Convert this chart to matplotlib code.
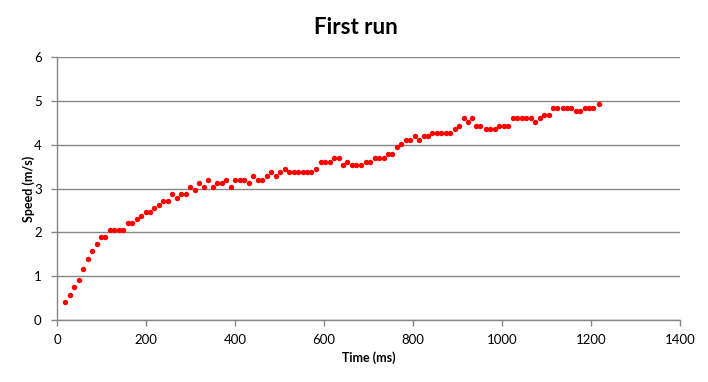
import matplotlib
matplotlib.use("Agg")
import matplotlib.pyplot as plt

time_ms = [17, 29, 38, 49.5, 58.5, 70, 79, 90, 99, 108, 119, 128, 139, 148, 160, 169, 180, 189,
           200, 209, 218, 229.5, 238.5, 249.6, 258.6, 270, 279, 290, 299, 310, 319.5, 330.6, 339.6,
           351, 360, 371, 380, 391, 400, 412, 420.6, 432, 441, 452, 461, 472, 481, 492.6, 501.6,
           513, 522, 533, 542, 553, 562, 571, 582.6, 594, 603, 614, 623, 634, 643, 652, 663.5,
           672.5, 684, 695, 704, 715, 724, 735.5, 744.5, 753.5, 765, 774, 785, 794, 805, 814,
           825.5, 834.5, 843.5, 854.7, 863.7, 875, 884, 895, 904, 915.5, 924.5, 933.5, 942.5,
           951.5, 963, 974, 985, 994, 1005, 1014, 1025.6, 1034.6, 1046, 1055, 1066, 1075, 1086,
           1095, 1106.6, 1115.6, 1124.6, 1136, 1147, 1156, 1167, 1176, 1187.6, 1196.6, 1205.6, 1217]
speed = [0.41, 0.57, 0.75, 0.91, 1.16, 1.39, 1.57, 1.73, 1.89, 1.89, 2.05, 2.05, 2.05, 2.05, 2.21,
         2.21, 2.30, 2.37, 2.46, 2.46, 2.55, 2.62, 2.71, 2.71, 2.88, 2.79, 2.88, 2.88, 3.04, 2.97,
         3.13, 3.04, 3.20, 3.04, 3.13, 3.13, 3.20, 3.04, 3.20, 3.20, 3.20, 3.13, 3.29, 3.20, 3.20,
         3.29, 3.38, 3.29, 3.38, 3.45, 3.38, 3.38, 3.38, 3.38, 3.38, 3.38, 3.45, 3.61, 3.61, 3.61,
         3.70, 3.70, 3.54, 3.61, 3.54, 3.54, 3.54, 3.61, 3.61, 3.70, 3.70, 3.70, 3.79, 3.79, 3.95,
         4.02, 4.11, 4.11, 4.20, 4.11, 4.20, 4.20, 4.27, 4.27, 4.27, 4.27, 4.27, 4.36, 4.43, 4.61,
         4.52, 4.61, 4.43, 4.43, 4.36, 4.36, 4.36, 4.43, 4.43, 4.43, 4.61, 4.61, 4.61, 4.61, 4.61,
         4.52, 4.61, 4.68, 4.68, 4.84, 4.84, 4.84, 4.84, 4.84, 4.77, 4.77, 4.84, 4.84, 4.84, 4.93]

x_ticks = [0, 200, 400, 600, 800, 1000, 1200, 1400]
y_ticks = [0, 1, 2, 3, 4, 5, 6]

plt.rcParams['font.family'] = ['Lato', 'DejaVu Sans']

fig = plt.figure(figsize=(7.08, 3.82), dpi=100)
ax = fig.add_axes([57/708, 1 - 320/382, (680 - 57)/708, (320 - 57)/382])

ax.plot(time_ms, speed, linestyle='none', marker='o', markersize=3.9,
        color='#ff0000', markeredgewidth=0, zorder=3)

ax.set_xlim(0, 1400)
ax.set_ylim(0, 6)
ax.set_xticks(x_ticks)
ax.set_yticks(y_ticks)
ax.set_xticklabels([str(v) for v in x_ticks])
ax.set_yticklabels([str(v) for v in y_ticks])

grid_c = '#868686'
ax.grid(axis='y', color=grid_c, linewidth=1.0)
ax.set_axisbelow(True)
for s in ['top', 'right']:
    ax.spines[s].set_visible(False)
for s in ['left', 'bottom']:
    ax.spines[s].set_color(grid_c)
    ax.spines[s].set_linewidth(1.0)

ax.tick_params(axis='both', direction='out', length=4, width=1, color=grid_c,
               labelsize=9.5, labelcolor='black')
ax.tick_params(axis='x', pad=6)
ax.tick_params(axis='y', pad=7)

ax.set_xlabel('Time (ms)', fontsize=9, fontweight='bold', labelpad=4)
ax.set_ylabel('Speed (m/s)', fontsize=9, fontweight='bold')
ax.yaxis.set_label_coords(-22/623, 0.5)

fig.text(356/708, 1 - 27/382, 'First run', ha='center', va='center',
         fontsize=16, fontweight='bold')

fig.savefig('out.png', dpi=100)
